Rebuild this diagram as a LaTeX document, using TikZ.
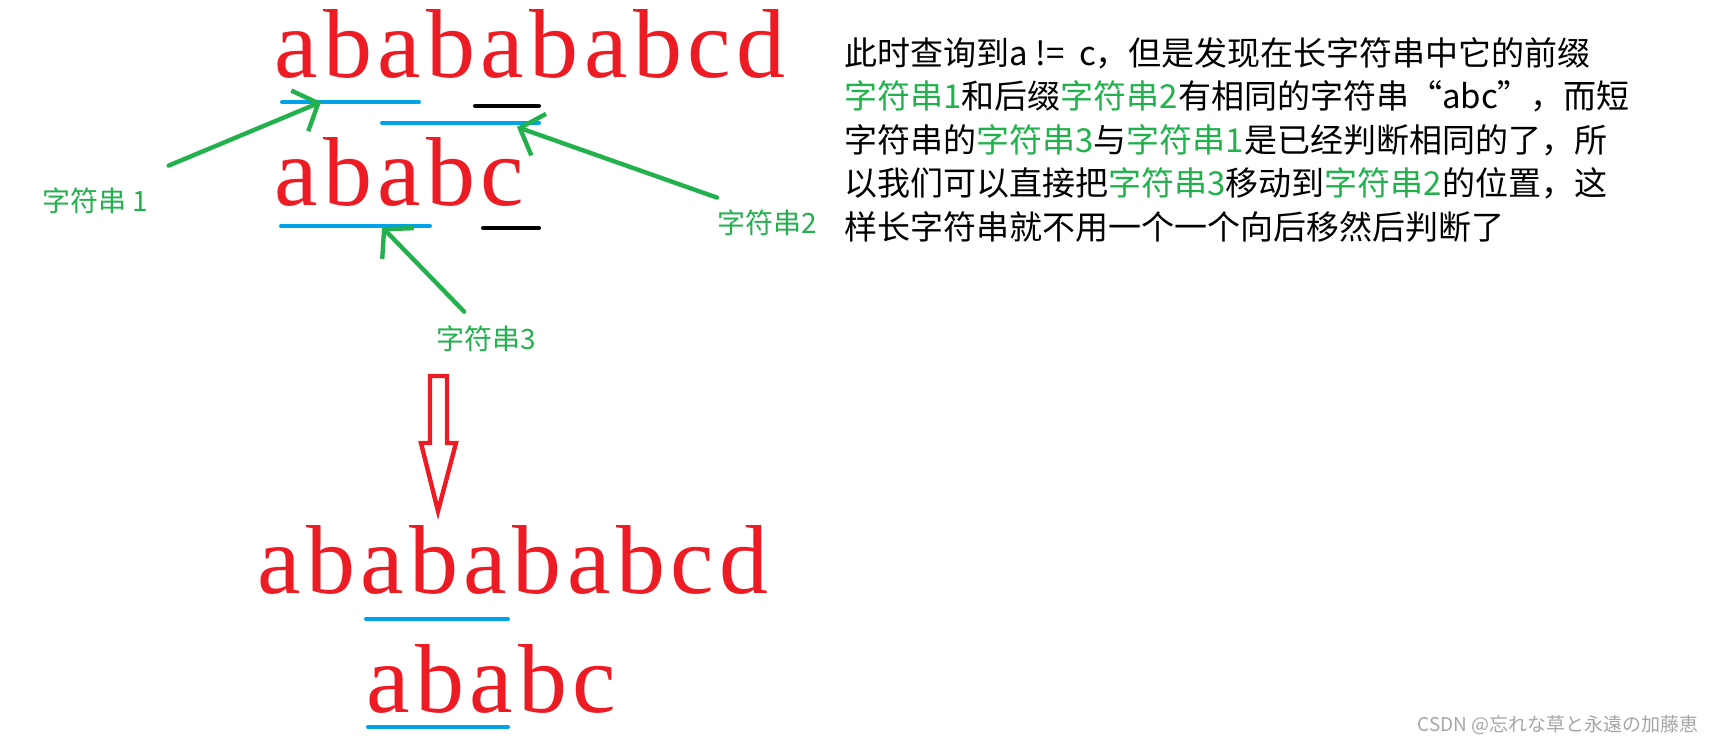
\documentclass[tikz,border=0pt]{standalone}
\usepackage{fontspec}
\usepackage{tikz}
\usetikzlibrary{arrows.meta}
\newfontfamily\cjkfont{Noto Sans CJK SC}
\newfontfamily\jpfont{Noto Sans CJK JP}
\newfontfamily\strfont[LetterSpace=5.5]{Liberation Serif}
\definecolor{paintred}{RGB}{237,28,36}
\definecolor{paintgreen}{RGB}{34,177,76}
\definecolor{paintblue}{RGB}{0,162,232}
\newcommand{\grn}[1]{\textcolor{paintgreen}{#1}}
\tikzstyle{bigstr} = [inner sep=0pt, anchor=base west, text=paintred, font=\strfont\fontsize{49}{49}\selectfont]
\tikzstyle{tag} = [inner sep=0pt, anchor=west, text=paintgreen, font=\cjkfont\fontsize{14}{14}\selectfont]
\tikzstyle{bluebar} = [line width=2pt, draw=paintblue, line cap=round]
\tikzstyle{blackbar} = [line width=2pt, draw=black, line cap=round]
\tikzstyle{arrow} = [line width=2.2pt, draw=paintgreen, line cap=round, -{Straight Barb[length=10pt,width=22pt]}]
\tikzstyle{hollow} = [line width=2.2pt, draw=paintred, line join=miter]

\begin{document}
\begin{tikzpicture}[x=0.5pt, y=-0.5pt]
                \useasboundingbox (0,0) rectangle (1715,745);
                % before the shift
                \node (longA) [bigstr] at (274,77) {ababababcd};
                \node (shortA) [bigstr] at (274,205) {ababc};
                \draw [bluebar] (282,102) -- (419,102);
                \draw [blackbar] (475,106) -- (539,106);
                \draw [bluebar] (382,123) -- (539,123);
                \draw [bluebar] (281,226) -- (430,226);
                \draw [blackbar] (483,228) -- (539,228);

                \node (s1) [tag] at (42,201) {字符串 1};
                \node (s2) [tag] at (717,223) {字符串2};
                \node (s3) [tag] at (436,339) {字符串3};
                \coordinate (p1) at (321,102);
                \coordinate (p2) at (517,127);
                \coordinate (p3) at (382,227);
                \draw [arrow] ([shift={(10pt,11pt)}]s1.north east) -- (p1);
                \draw [arrow] ([yshift=6pt]s2.north west) -- (p2);
                \draw [arrow] ([shift={(-11pt,7pt)}]s3.north) -- (p3);

                \node (note) [anchor=north west, inner sep=0pt, align=left, font=\cjkfont\fontsize{16.5}{21.75}\selectfont] at (844,37)
                    {此时查询到a\ !=\ \ c，但是发现在长字符串中它的前缀\\
                     \grn{字符串1}和后缀\grn{字符串2}有相同的字符串“abc”，而短\\
                     字符串的\grn{字符串3}与\grn{字符串1}是已经判断相同的了，所\\
                     以我们可以直接把\grn{字符串3}移动到\grn{字符串2}的位置，这\\
                     样长字符串就不用一个一个向后移然后判断了};

                % after the shift
                \draw [hollow] (430,376) -- (447,376) -- (447,443) -- (456,443) -- (438,511) -- (421,443) -- (430,443) -- cycle;
                \node (longB) [bigstr] at (257,593) {ababababcd};
                \node (shortB) [bigstr] at (366,712) {ababc};
                \draw [bluebar] (366,619) -- (508,619);
                \draw [bluebar] (368,727) -- (508,727);

                \node (mark) [anchor=east, inner sep=0pt, text=gray!70, font=\jpfont\fontsize{9.5}{9.5}\selectfont] at (1699,725) {CSDN @忘れな草と永遠の加藤恵};
            \end{tikzpicture}
\end{document}
